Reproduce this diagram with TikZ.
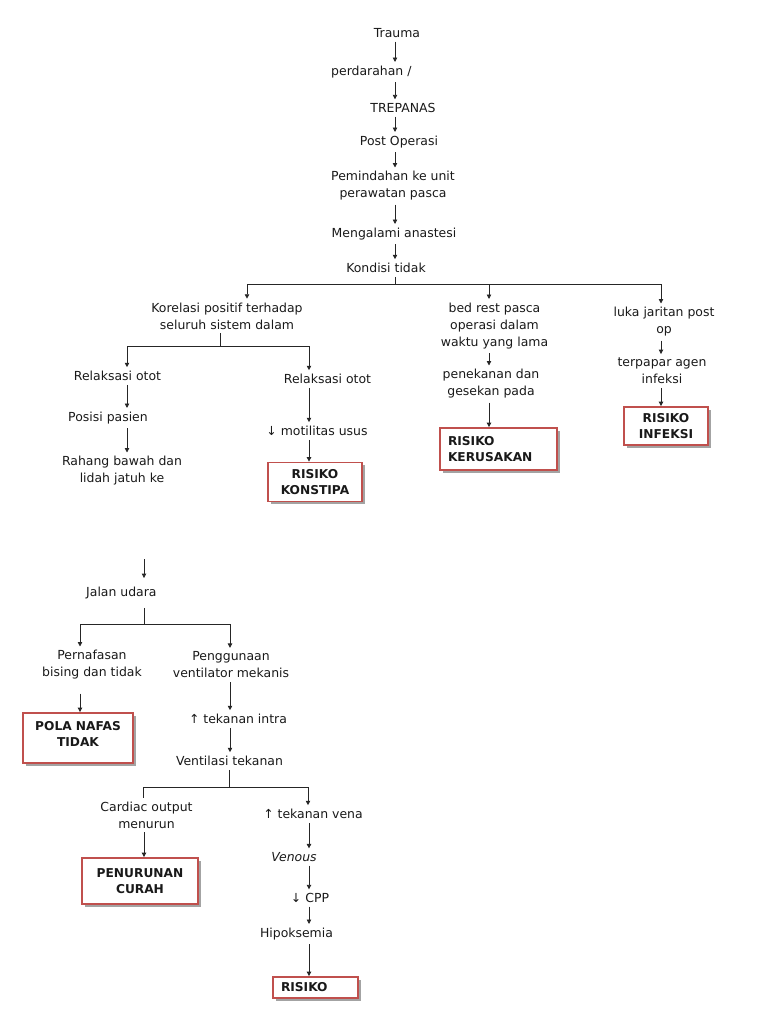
\documentclass[tikz,border=0pt]{standalone}
\usepackage{fontspec}
\setmainfont{DejaVu Sans}
\usetikzlibrary{arrows.meta,shadows}
\definecolor{boxred}{RGB}{192,80,77}
\newcommand{\txtsize}{\fontsize{12.45pt}{17pt}\selectfont}
\newcommand{\boxsize}{\fontsize{12.2pt}{16.5pt}\selectfont\bfseries}
\begin{document}
\begin{tikzpicture}[x=1pt,y=-1pt,
  lbl/.style={inner sep=0pt, outer ysep=4pt, align=center, font=\txtsize, text=black!90},
  conn/.style={line width=0.8pt, draw=black!85},
  arr/.style={conn, -{Triangle[width=4.4pt,length=4.4pt]}},
  riskbox/.style={draw=boxred, line width=1.8pt, fill=white, font=\boxsize, text=black!90,
    align=center, inner sep=0pt,
    drop shadow={shadow xshift=2.5pt, shadow yshift=-2.5pt, fill=black!45, opacity=0.8}}]

\useasboundingbox (0,0) rectangle (768,1024);

% column coordinates
\coordinate (c0) at (395,0);
\coordinate (c1) at (127,0);
\coordinate (c2) at (309,0);
\coordinate (c3) at (489,0);
\coordinate (c4) at (661,0);
\coordinate (c5) at (80,0);
\coordinate (c6) at (230,0);
\coordinate (c7) at (144,0);
\coordinate (c8) at (309,0);

% ---- top chain
\node[lbl] (trauma) at (397,33) {Trauma};
\node[lbl, anchor=west] (perd) at (331,72) {perdarahan /};
\node[lbl] (trep) at (403,108) {TREPANAS};
\node[lbl] (post) at (399,142) {Post Operasi};
\node[lbl] (pind) at (393,186) {Pemindahan ke unit\\perawatan pasca};
\node[lbl] (meng) at (394,234) {Mengalami anastesi};
\node[lbl] (kond) at (386,268) {Kondisi tidak};

\draw[arr] (trauma.south -| c0) -- (perd.north -| c0);
\draw[arr] (perd.south -| c0) -- (trep.north -| c0);
\draw[arr] (trep.south -| c0) -- (post.north -| c0);
\draw[arr] (post.south -| c0) -- (pind.north -| c0);
\draw[arr] (pind.south -| c0) -- (meng.north -| c0);
\draw[arr] (meng.south -| c0) -- (kond.north -| c0);

\coordinate (kb) at (395,284);
\coordinate (kl) at (247,284);
\coordinate (km) at (489,284);
\coordinate (kr) at (661,284);
\draw[conn] (kond.south -| c0) -- (kb);
\draw[conn] (kl) -- (kr);

% ---- first-level nodes
\node[lbl] (kor) at (227,316) {Korelasi positif terhadap\\seluruh sistem dalam};
\node[lbl] (bed) at (494.5,326) {bed rest pasca\\operasi dalam\\waktu yang lama};
\node[lbl] (luka) at (664,322) {luka jaritan post\\op};
\draw[arr] (kl) -- (kor.north -| kl);
\draw[arr] (km) -- (bed.north -| km);
\draw[arr] (kr) -- (luka.north -| kr);

% ---- korelasi branches
\coordinate (s1) at (220,346);
\coordinate (l2l) at (127,346);
\coordinate (l2r) at (309,346);
\draw[conn] (kor.south -| s1) -- (s1);
\draw[conn] (l2l) -- (l2r);

\node[lbl] (rel1) at (117.5,376) {Relaksasi otot};
\node[lbl] (pos) at (108,418) {Posisi pasien};
\node[lbl] (rahang) at (122,471) {Rahang bawah dan\\lidah jatuh ke};
\draw[arr] (l2l) -- (rel1.north -| l2l);
\draw[arr] (rel1.south -| c1) -- (pos.north -| c1);
\draw[arr] (pos.south -| c1) -- (rahang.north -| c1);

\node[lbl] (rel2) at (327.5,379) {Relaksasi otot};
\node[lbl] (mot) at (317,431) {↓ motilitas usus};
\node[riskbox, minimum width=94pt, minimum height=39pt] (konst) at (315,482) {RISIKO\\KONSTIPA};
\draw[arr] (l2r) -- (rel2.north -| l2r);
\draw[arr] (rel2.south -| c2) -- (mot.north -| c2);
\draw[arr] (mot.south -| c2) -- (konst.north -| c2);

% ---- bed rest branch
\node[lbl] (pen) at (491,384) {penekanan dan\\gesekan pada};
\node[riskbox, minimum width=117pt, minimum height=42pt, text width=101pt, align=left] (ker) at (498.5,449) {RISIKO\\KERUSAKAN};
\draw[arr] (bed.south -| c3) -- (pen.north -| c3);
\draw[arr] (pen.south -| c3) -- (ker.north -| c3);

% ---- luka branch
\node[lbl] (terp) at (662,371) {terpapar agen\\infeksi};
\node[riskbox, minimum width=84pt, minimum height=38pt] (inf) at (666,426) {RISIKO\\INFEKSI};
\draw[arr] (luka.south -| c4) -- (terp.north -| c4);
\draw[arr] (terp.south -| c4) -- (inf.north -| c4);

% ---- lower section
\coordinate (jstart) at (144,559);
\node[lbl, anchor=west, outer ysep=9pt] (jalan) at (86,593) {Jalan udara};
\draw[arr] (jstart) -- (jalan.north -| jstart);

\coordinate (s3) at (144,624);
\coordinate (b3l) at (80,624);
\coordinate (b3r) at (230,624);
\draw[conn] (jalan.south -| s3) -- (s3);
\draw[conn] (b3l) -- (b3r);

\node[lbl] (pern) at (92,665) {Pernafasan\\bising dan tidak};
\node[lbl] (peng) at (231,665) {Penggunaan\\ventilator mekanis};
\draw[arr] (b3l) -- (pern.north -| b3l);
\draw[arr] (b3r) -- (peng.north -| b3r);

\node[riskbox, minimum width=110pt, minimum height=50pt, text depth=8pt] (pola) at (78,738) {POLA NAFAS\\TIDAK};
\draw[arr, shorten <=10pt] (pern.south -| c5) -- (pola.north -| c5);

\node[lbl] (tin) at (238,719) {↑ tekanan intra};
\node[lbl] (vent) at (229.5,761) {Ventilasi tekanan};
\draw[arr] (peng.south -| c6) -- (tin.north -| c6);
\draw[arr] (tin.south -| c6) -- (vent.north -| c6);

\coordinate (s4) at (229,787);
\coordinate (b4l) at (143,787);
\coordinate (b4r) at (308,787);
\draw[conn] (vent.south -| s4) -- (s4);
\draw[conn] (b4l) -- (b4r);

\node[lbl] (card) at (146.5,815) {Cardiac output\\menurun};
\node[lbl] (tv) at (313,814) {↑ tekanan vena};
\draw[conn] (b4l) -- (card.north -| b4l);
\draw[arr] (b4r) -- (tv.north -| b4r);

\node[riskbox, minimum width=116pt, minimum height=46pt] (penur) at (140,881) {PENURUNAN\\CURAH};
\draw[arr] (card.south -| c7) -- (penur.north -| c7);

\node[lbl, font=\txtsize\itshape] (ven) at (294,857) {Venous};
\node[lbl] (cpp) at (310,898) {↓ CPP};
\node[lbl] (hip) at (296.5,934) {Hipoksemia};
\node[riskbox, minimum width=85pt, minimum height=21pt, text width=69pt, align=left] (ris) at (315.5,987.5) {RISIKO};
\draw[arr] (tv.south -| c8) -- (ven.north -| c8);
\draw[arr] (ven.south -| c8) -- (cpp.north -| c8);
\draw[arr] (cpp.south -| c8) -- (hip.north -| c8);
\draw[arr] (hip.south -| c8) -- (ris.north -| c8);

\end{tikzpicture}
\end{document}
